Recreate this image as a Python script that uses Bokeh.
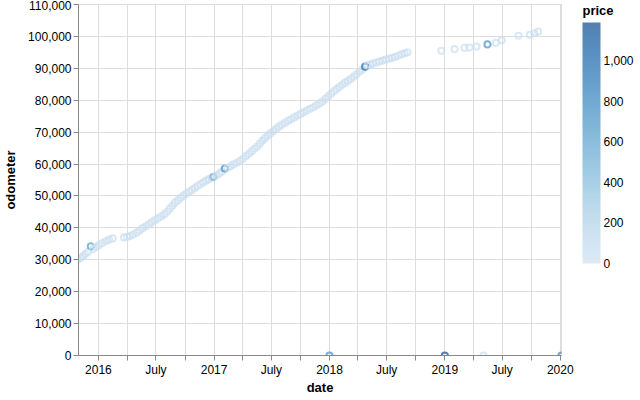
import numpy as np
import pandas as pd
from bokeh.plotting import figure
from bokeh.models import (ColumnDataSource, LinearColorMapper, ColorBar, FixedTicker,
                          NumeralTickFormatter, Range1d)
from bokeh.transform import transform
from bokeh.embed import file_html
from bokeh.resources import INLINE

# ---------------- data ----------------
dates = [
    "2015-10-30", "2015-11-06", "2015-11-13", "2015-11-21", "2015-11-29", "2015-12-08",
    "2015-12-15", "2015-12-24", "2016-01-03", "2016-01-13", "2016-01-24", "2016-02-04",
    "2016-02-15", "2016-03-22", "2016-03-31", "2016-04-09", "2016-04-20", "2016-05-01",
    "2016-05-10", "2016-05-20", "2016-05-30", "2016-06-09", "2016-06-18", "2016-06-28",
    "2016-07-08", "2016-07-18", "2016-07-28", "2016-08-06", "2016-08-14", "2016-08-22",
    "2016-08-30", "2016-09-08", "2016-09-17", "2016-09-26", "2016-10-05", "2016-10-14",
    "2016-10-23", "2016-11-01", "2016-11-10", "2016-11-19", "2016-11-28", "2016-12-07",
    "2016-12-16", "2016-12-24", "2016-12-30", "2017-01-08", "2017-01-17", "2017-01-26",
    "2017-02-04", "2017-02-12", "2017-02-22", "2017-03-04", "2017-03-14", "2017-03-24",
    "2017-04-03", "2017-04-12", "2017-04-21", "2017-04-30", "2017-05-09", "2017-05-18",
    "2017-05-26", "2017-06-03", "2017-06-11", "2017-06-19", "2017-06-28", "2017-07-07",
    "2017-07-16", "2017-07-25", "2017-08-03", "2017-08-13", "2017-08-23", "2017-09-02",
    "2017-09-12", "2017-09-22", "2017-10-02", "2017-10-12", "2017-10-22", "2017-11-01",
    "2017-11-11", "2017-11-21", "2017-12-01", "2017-12-10", "2017-12-19", "2017-12-28",
    "2018-01-01", "2018-01-06", "2018-01-15", "2018-01-24", "2018-02-02", "2018-02-11",
    "2018-02-20", "2018-03-01", "2018-03-10", "2018-03-19", "2018-03-28", "2018-04-06",
    "2018-04-15", "2018-04-24", "2018-05-01", "2018-05-10", "2018-05-19", "2018-05-29",
    "2018-06-08", "2018-06-18", "2018-06-28", "2018-07-08", "2018-07-18", "2018-07-28",
    "2018-08-07", "2018-08-17", "2018-08-27", "2018-09-05", "2018-12-21", "2019-01-01",
    "2019-02-01", "2019-03-04", "2019-03-20", "2019-04-11", "2019-05-03", "2019-05-16",
    "2019-06-11", "2019-06-30", "2019-08-22", "2019-09-27", "2019-10-11", "2019-10-23",
    "2020-01-05",
]
odometer = [
    30100, 30600, 31100, 31800, 32500, 34200,
    33400, 34000, 34600, 35200, 35800, 36300,
    36700, 37000, 37200, 37400, 37900, 38500,
    39200, 39900, 40500, 41100, 41800, 42400,
    43000, 43600, 44300, 45100, 46000, 46900,
    47800, 48600, 49400, 50100, 50700, 51300,
    51900, 52500, 53100, 53700, 54300, 54800,
    55300, 55700, 56000, 56400, 57000, 57600,
    58600, 58800, 59300, 59900, 60400, 61000,
    61700, 62500, 63200, 64000, 64800, 65500,
    66400, 67300, 68100, 68900, 69600, 70300,
    71000, 71700, 72300, 72900, 73500, 74000,
    74600, 75200, 75700, 76300, 76800, 77300,
    77800, 78400, 79000, 79600, 80400, 81200,
    0, 82000, 82800, 83500, 84200, 84900,
    85500, 86100, 86700, 87400, 88100, 88900,
    89600, 90500, 90900, 91200, 91500, 91800,
    92100, 92400, 92700, 93000, 93300, 93600,
    94000, 94400, 94700, 95000, 95500, 0,
    96000, 96400, 96500, 96800, 0, 97500,
    98000, 98800, 100200, 100500, 101000, 101500,
    0,
]
price = [
    35, 42, 38, 40, 36, 620,
    41, 39, 44, 37, 40, 43,
    38, 41, 36, 45, 39, 42,
    37, 40, 44, 38, 41, 36,
    43, 39, 42, 37, 40, 45,
    38, 41, 39, 43, 36, 42,
    40, 38, 44, 37, 41, 39,
    42, 38, 480, 40, 43, 37,
    760, 41, 39, 44, 38, 42,
    36, 40, 45, 39, 41, 37,
    43, 40, 38, 44, 39, 42,
    37, 40, 43, 38, 41, 39,
    44, 37, 40, 42, 38, 41,
    36, 43, 39, 40, 44, 38,
    740, 41, 37, 42, 40, 39,
    43, 38, 41, 36, 44, 40,
    39, 1050, 42, 38, 41, 37,
    43, 40, 39, 42, 38, 41,
    36, 44, 40, 39, 41, 1190,
    38, 42, 40, 37, 60, 720,
    43, 39, 41, 38, 42, 40,
    800,
]

x_tick_dates = [
    "2016-01-01", "2016-04-01", "2016-07-01", "2016-10-01",
    "2017-01-01", "2017-04-01", "2017-07-01", "2017-10-01",
    "2018-01-01", "2018-04-01", "2018-07-01", "2018-10-01",
    "2019-01-01", "2019-04-01", "2019-07-01", "2019-10-01",
    "2020-01-01",
]
x_tick_labels = [
    "2016", "", "July", "",
    "2017", "", "July", "",
    "2018", "", "July", "",
    "2019", "", "July", "",
    "2020",
]
y_ticks = [0, 10000, 20000, 30000, 40000, 50000, 60000, 70000, 80000, 90000, 100000, 110000]
legend_ticks = [0, 200, 400, 600, 800, 1000]

# ---------------- style ----------------
FONT = "Liberation Sans"
FRAME_W, FRAME_H = 483, 351
vega_blues = ["#cfe1f2", "#bed8ec", "#a8cee5", "#8fc1de", "#74b2d7", "#5ba3cf",
              "#4592c6", "#3181bd", "#206fb2", "#125ca4", "#0a4a90"]


def hex2rgb(h):
    return tuple(int(h[i:i + 2], 16) for i in (1, 3, 5))


cols = np.array([hex2rgb(c) for c in vega_blues], float)
knots = np.linspace(0, 1, len(cols))
palette = []
for t in np.linspace(0, 1, 256):
    rgb = [int(round(np.interp(t, knots, cols[:, k]))) for k in range(3)]
    palette.append("#%02x%02x%02x" % tuple(rgb))

df = pd.DataFrame({"date": pd.to_datetime(dates), "odometer": odometer, "price": price})
src = ColumnDataSource(df)

tick_ms = [int(pd.Timestamp(d).value // 10**6) for d in x_tick_dates]

p = figure(frame_width=FRAME_W, frame_height=FRAME_H, output_backend="svg",
           toolbar_location=None, x_axis_type="datetime",
           x_range=Range1d(df["date"].min(), df["date"].max()),
           y_range=Range1d(0, 110000),
           min_border_left=69, min_border_top=4, min_border_right=74, min_border_bottom=0)

mapper = LinearColorMapper(palette=palette, low=0, high=max(price))

p.scatter(x="date", y="odometer", source=src, marker="circle", size=6.2,
          fill_color=None, line_color=transform("price", mapper), line_width=2,
          line_alpha=0.7)

p.outline_line_color = "#dddddd"
p.background_fill_color = "white"
p.border_fill_color = "white"

p.xaxis.ticker = FixedTicker(ticks=tick_ms)
p.xaxis.major_label_overrides = {ms: lab for ms, lab in zip(tick_ms, x_tick_labels)}
p.xgrid.ticker = FixedTicker(ticks=tick_ms)
p.yaxis.ticker = FixedTicker(ticks=y_ticks)
p.ygrid.ticker = FixedTicker(ticks=y_ticks)
p.yaxis.formatter = NumeralTickFormatter(format="0,0")

p.xaxis.axis_label = "date"
p.yaxis.axis_label = "odometer"

for ax in (p.xaxis, p.yaxis):
    ax.axis_line_color = "#888888"
    ax.major_tick_line_color = "#888888"
    ax.major_tick_out = 5
    ax.major_tick_in = 0
    ax.minor_tick_line_color = None
    ax.major_label_text_font = FONT
    ax.major_label_text_font_size = "12px"
    ax.major_label_text_color = "#000000"
    ax.major_label_standoff = 2
    ax.axis_label_text_font = FONT
    ax.axis_label_text_font_size = "13px"
    ax.axis_label_text_font_style = "bold"
    ax.axis_label_text_color = "#000000"

p.yaxis.axis_label_standoff = 7
p.xaxis.axis_label_standoff = 0

for g in (p.xgrid, p.ygrid):
    g.grid_line_color = "#dddddd"
    g.grid_line_width = 1

# gradient legend
cb = ColorBar(color_mapper=mapper, ticker=FixedTicker(ticks=legend_ticks),
              formatter=NumeralTickFormatter(format="0,0"),
              width=18, height=241, title=None,
              major_label_text_font=FONT, major_label_text_font_size="12px",
              major_label_text_color="#000000",
              major_tick_line_color=None, bar_line_color=None,
              border_line_color=None, background_fill_color=None,
              scale_alpha=0.7, label_standoff=3, padding=0, margin=0,
              location=(FRAME_W + 21, FRAME_H + 4 - 263))
p.add_layout(cb, "center")

# legend title (horizontal title carrier with an invisible bar)
cb_title = ColorBar(color_mapper=mapper, ticker=FixedTicker(ticks=[]),
                    orientation="horizontal", width=30, height=1,
                    title="price", title_text_font=FONT, title_text_font_size="13px",
                    title_text_font_style="bold", title_text_color="#000000",
                    title_standoff=0, scale_alpha=0.0,
                    major_label_text_font_size="0px", major_tick_line_color=None,
                    minor_tick_line_color=None, bar_line_color=None,
                    border_line_color=None, background_fill_color=None,
                    label_standoff=0, padding=0, margin=0,
                    location=(FRAME_W + 21, FRAME_H - 14))
p.add_layout(cb_title, "center")

open("out.html", "w").write(file_html(p, INLINE))
